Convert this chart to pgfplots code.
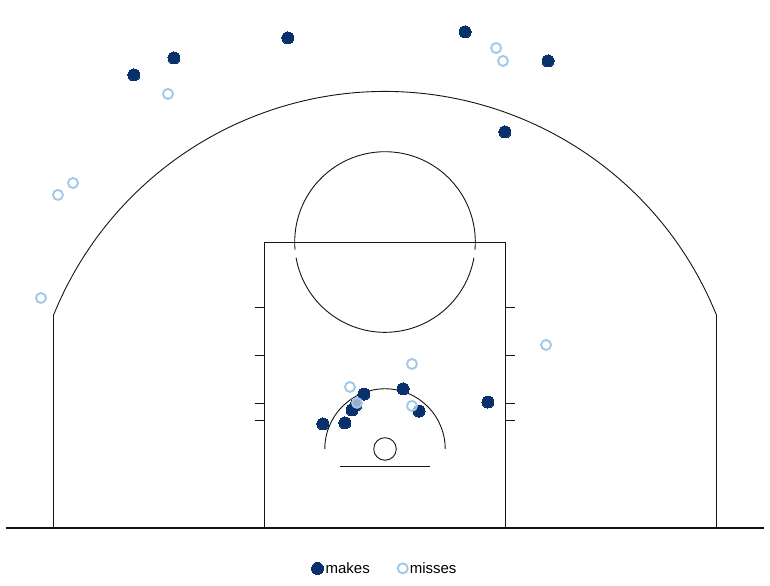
\documentclass[border=0pt]{standalone}
\usepackage{pgfplots}
\pgfplotsset{compat=1.18}
\usepackage{fontspec}
\setmainfont{Liberation Sans}
\definecolor{makec}{RGB}{8,48,107}
\definecolor{missc}{RGB}{160,200,236}
\definecolor{courtc}{RGB}{20,20,20}
\tikzset{court/.style={draw=courtc, line width=0.9pt}}
\begin{document}
\begin{tikzpicture}
\begin{axis}[
  x=15.05pt, y=15.05pt,
  xmin=-25.58, xmax=25.58, ymin=-9.10, ymax=29.83,
  axis lines=none, ticks=none,
  clip=false,
  legend style={draw=none, fill=none, at={(0.5,0.030)}, anchor=center,
    legend columns=2, font=\fontsize{15}{17}\selectfont,
    /tikz/every even column/.append style={column sep=26pt},
    nodes={inner sep=2pt}},
  legend image code/.code={\draw[#1] plot coordinates {(0pt,0pt)};},
]
\path (axis cs:-25.58,-9.10) rectangle (axis cs:25.58,29.83);
% court
\addplot[court, line width=1.3pt, forget plot] coordinates {(-25.2,-5.25) (25.2,-5.25)};
\addplot[court, forget plot] coordinates {(-22.05,-5.25) (-22.05,8.95)};
\addplot[court, forget plot] coordinates {(22.05,-5.25) (22.05,8.95)};
\addplot[court, forget plot] coordinates {(-8,-5.25) (-8,13.75) (8,13.75) (8,-5.25)};
\addplot[court, forget plot] coordinates {(-3,-1.18) (3,-1.18)};
\addplot[court, forget plot] coordinates {(-8.66,9.42) (-8,9.42)};
\addplot[court, forget plot] coordinates {(-8.66,6.23) (-8,6.23)};
\addplot[court, forget plot] coordinates {(-8.66,3.04) (-8,3.04)};
\addplot[court, forget plot] coordinates {(-8.66,1.88) (-8,1.88)};
\addplot[court, forget plot] coordinates {(8,9.42) (8.66,9.42)};
\addplot[court, forget plot] coordinates {(8,6.23) (8.66,6.23)};
\addplot[court, forget plot] coordinates {(8,3.04) (8.66,3.04)};
\addplot[court, forget plot] coordinates {(8,1.88) (8.66,1.88)};
\draw[court] (axis cs:0,0) ++(22.14:357.44pt) arc[start angle=22.14, end angle=157.86, radius=357.44pt];
\draw[court] (axis cs:4,0) arc[start angle=0, end angle=180, radius=60.2pt];
\draw[court] (axis cs:0,0) circle[radius=11.29pt];
\draw[court] (axis cs:0,13.75) ++(-5:90.3pt) arc[start angle=-5, end angle=185, radius=90.3pt];
\draw[court] (axis cs:0,13.75) ++(190:90.3pt) arc[start angle=190, end angle=350, radius=90.3pt];
% makes
\addplot[only marks, mark=*, mark size=6pt, mark options={draw=makec, fill=makec, line width=0pt}]
coordinates {
(-16.68,24.85) (-14.02,25.98) (-6.45,27.31) (5.32,27.71) (10.83,25.78)
(7.97,21.06) (6.84,3.12) (1.20,3.99) (2.26,2.52) (-1.40,3.65)
(-2.19,2.59) (-2.66,1.73) (-4.12,1.66) (-1.93,2.92)
};
\addlegendentry{makes}
% misses
\addplot[only marks, mark=*, mark size=5pt, mark options={draw=missc, fill=white, fill opacity=0.6, draw opacity=1, line width=1.9pt}]
coordinates {
(7.38,26.64) (7.84,25.78) (-14.42,23.59) (-20.73,17.67) (-21.73,16.88)
(-22.86,10.03) (10.70,6.91) (1.79,5.65) (-2.33,4.12) (-1.86,3.06) (1.79,2.86)
};
\addlegendentry{misses}
\end{axis}
\end{tikzpicture}
\end{document}
